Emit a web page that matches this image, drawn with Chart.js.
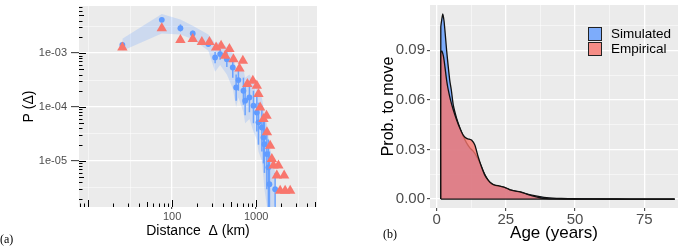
<!DOCTYPE html>
<html lang="en">
<head>
  <meta charset="UTF-8">
  <title>Distance and age of moves</title>
  <script src="https://cdn.jsdelivr.net/npm/chart.js"></script>
  <style>
    body { margin: 0; background: #fff; }
    #wrap { position: relative; width: 685px; height: 250px; }
    #left { position: absolute; left: 0; top: 0; }
    #right { position: absolute; left: 340px; top: 0; }
    .tag { position: absolute; font-family: "Liberation Serif", serif; font-size: 12px; color: #000; }
  </style>
</head>
<body>
<div id="wrap">
  <canvas id="left" width="340" height="250"></canvas>
  <canvas id="right" width="345" height="250"></canvas>
  <div class="tag" style="left:0;top:232px">(a)</div>
  <div class="tag" style="left:383px;top:227px">(b)</div>
</div>

<script>
  // ---- (a) P(distance), log-log ----
  const simDist = [25.6, 75.4, 125.6, 176, 270, 325, 373, 448, 527, 578, 615, 706, 740, 832, 929, 1019, 1066, 1170, 1222, 1256, 1340, 1400, 1439, 1683];
  const simP    = [1.41e-3, 4.14e-3, 2.9e-3, 2.31e-3, 1.47e-3, 8.3e-4, 9.6e-4, 7.7e-4, 5.4e-4, 2.3e-4, 3.16e-4, 2.0e-4, 1.31e-4, 1.5e-4, 1.06e-4, 7.9e-5, 5.2e-5, 4.17e-5, 2.73e-5, 2.05e-5, 1.34e-5, 7.6e-6, 3.7e-6, 3.0e-6];
  const simLo   = [1.3e-3, 3.8e-3, 2.5e-3, 2.1e-3, 1.3e-3, 6.5e-4, 7.5e-4, 5.5e-4, 3.5e-4, 1.3e-4, 2e-4, 1.1e-4, 7e-5, 8e-5, 5e-5, 3.5e-5, 2e-5, 1.5e-5, 9e-6, 6e-6, 3e-6, 1.4e-6, 1.4e-6, 1.4e-6];
  const simHi   = [1.5e-3, 4.5e-3, 3.4e-3, 2.6e-3, 1.7e-3, 1.05e-3, 1.2e-3, 1.05e-3, 8e-4, 4e-4, 5e-4, 3.5e-4, 2.4e-4, 2.8e-4, 2e-4, 1.6e-4, 1.2e-4, 1e-4, 7e-5, 6e-5, 4e-5, 2.5e-5, 1.5e-5, 6e-6];
  const ribLo   = [1.1e-3, 2.3e-3, 2.2e-3, 1.8e-3, 1.1e-3, 4.5e-4, 6e-4, 4e-4, 2.2e-4, 1.0e-4, 1.5e-4, 8e-5, 5e-5, 6e-5, 3.5e-5, 2.5e-5, 1.5e-5, 1e-5, 5e-6, 3e-6, 1.5e-6, 1.2e-6, 1.2e-6, 1.5e-6];
  const ribHi   = [1.85e-3, 5.3e-3, 4.2e-3, 3.2e-3, 2.2e-3, 1.5e-3, 1.6e-3, 1.3e-3, 1.0e-3, 5e-4, 6e-4, 5e-4, 3.5e-4, 4e-4, 3e-4, 2.5e-4, 1.8e-4, 1.5e-4, 1e-4, 8e-5, 5e-5, 3e-5, 2e-5, 6e-6];
  const empDist = [25.6, 75.4, 125.6, 176, 226, 278, 334, 383, 428, 481, 537, 633, 695, 787, 914, 1019, 1066, 1116, 1222, 1330, 1345, 1468, 1538, 1607, 1762, 1841, 1931, 2154, 2213, 2541];
  const empP    = [1.27e-3, 2.9e-3, 1.74e-3, 1.82e-3, 1.6e-3, 1.6e-3, 1.27e-3, 1.37e-3, 8.9e-4, 1.19e-3, 7.7e-4, 5.2e-4, 7.2e-4, 2.67e-4, 3.07e-4, 2.48e-4, 1.74e-4, 9.8e-5, 6.0e-5, 6.9e-5, 3.4e-5, 1.92e-5, 1.09e-5, 8.2e-6, 5.35e-6, 8.2e-6, 2.8e-6, 5.35e-6, 2.8e-6, 2.8e-6];
  const distBreaks = [100, 1000];
  const probBreaks = [1e-5, 1e-4, 1e-3];

  // ---- (b) probability to move by age ----
  const simAge  = [1.5, 1.5, 1.8, 2.2, 2.65, 3.1, 3.6, 4.2, 4.8, 5.3, 6.0, 7.2, 8.4, 9.6, 10.8, 12.0, 13.2, 14.4, 15.6, 16.8, 18.0, 19.2, 21, 22.8, 24.6, 26.5, 28.5, 30.5, 32.5, 34.9, 37.3, 39.7, 42, 45, 50, 55, 60, 70, 86];
  const simProb = [0, 0.104, 0.108, 0.112, 0.108, 0.100, 0.090, 0.080, 0.071, 0.066, 0.057, 0.049, 0.043, 0.038, 0.034, 0.031, 0.029, 0.026, 0.022, 0.017, 0.013, 0.010, 0.0083, 0.0077, 0.0070, 0.0056, 0.0048, 0.0042, 0.0032, 0.0022, 0.0015, 0.0009, 0.0006, 0.0004, 0.0002, 0.0001, 0.00005, 0.00002, 0];
  const empAge  = [1.5, 1.5, 1.9, 2.5, 3.0, 3.6, 4.2, 5.0, 6.0, 7.2, 8.4, 9.6, 10.8, 11.8, 12.6, 13.8, 15.0, 16.2, 17.4, 18.6, 19.8, 21.0, 22.8, 24.6, 26.5, 28.5, 30.1, 32.5, 34.9, 37.3, 39.7, 42, 50, 86];
  const empProb = [0, 0.089, 0.0895, 0.086, 0.080, 0.072, 0.066, 0.060, 0.054, 0.048, 0.0428, 0.0387, 0.0367, 0.0362, 0.0357, 0.0327, 0.0256, 0.0195, 0.0145, 0.0115, 0.0095, 0.0085, 0.0079, 0.0071, 0.0056, 0.0048, 0.0044, 0.0030, 0.0018, 0.0008, 0.0003, 0.0001, 0.00003, 0];
  const ageBreaks = [0, 25, 50, 75];
  const moveBreaks = [0, 0.03, 0.06, 0.09];

  Chart.defaults.font.family = '"Liberation Sans", Arial, sans-serif';
  Chart.defaults.animation = false;

  const BLUE = '#619CFF', RED = '#F8766D';
  const tickGrey = '#4D4D4D';

  // grey panel like ggplot
  const panelBg = {
    id: 'panelBg',
    beforeDraw(chart) {
      const a = chart.chartArea, ctx = chart.ctx;
      ctx.save();
      ctx.fillStyle = '#EBEBEB';
      ctx.fillRect(a.left, a.top, a.right - a.left, a.bottom - a.top);
      ctx.restore();
    }
  };

  // breaks + minor lines half way between (log or linear)
  function logGrid(min, max, majors) {
    const out = [];
    for (let e = Math.floor(Math.log10(min)); e <= Math.ceil(Math.log10(max)); e += 0.5) {
      const v = Math.pow(10, e);
      if (v < min || v > max) continue;
      const major = majors.some(m => Math.abs(Math.log10(m) - e) < 1e-6);
      out.push({ value: v, minor: !major });
    }
    return out;
  }
  function linGrid(min, max, majors) {
    const step = majors[1] - majors[0];
    const out = [];
    for (let k = -2; k <= majors.length * 2 + 2; k++) {
      const v = majors[0] + k * step / 2;
      if (v < min - 1e-9 || v > max + 1e-9) continue;
      out.push({ value: v, minor: k % 2 !== 0 || !majors.some(m => Math.abs(m - v) < 1e-9) });
    }
    return out;
  }

  function gridOpts(tickLen) {
    return {
      color: c => c.tick && c.tick.minor ? 'rgba(255,255,255,0.7)' : '#FFFFFF',
      lineWidth: c => c.tick && c.tick.minor ? 0.7 : 1.3,
      tickColor: c => c.tick && c.tick.minor ? 'rgba(0,0,0,0)' : '#333333',
      tickLength: tickLen,
      tickWidth: 1
    };
  }

  // fixed axis size, no extra label overhang padding
  function fixSize(prop, size) {
    return s => {
      s[prop] = size;
      s.paddingTop = 0; s.paddingBottom = 0; s.paddingLeft = 0; s.paddingRight = 0;
    };
  }

  // error bars under the blue points
  const errorBars = {
    id: 'errorBars',
    beforeDatasetDraw(chart, args) {
      if (args.index !== 2) return;
      const { ctx, chartArea: a } = chart;
      const x = chart.scales.x, y = chart.scales.y;
      ctx.save();
      ctx.beginPath();
      ctx.rect(a.left, a.top, a.right - a.left, a.bottom - a.top);
      ctx.clip();
      ctx.strokeStyle = 'rgba(97,156,255,0.9)';
      ctx.lineWidth = 1.5;
      simDist.forEach((d, i) => {
        const px = x.getPixelForValue(d);
        ctx.beginPath();
        ctx.moveTo(px, y.getPixelForValue(simLo[i]));
        ctx.lineTo(px, y.getPixelForValue(simHi[i]));
        ctx.stroke();
      });
      ctx.restore();
    }
  };

  // annotation_logticks on bottom and left
  const logTickMarks = {
    id: 'logTickMarks',
    afterDatasetsDraw(chart) {
      const { ctx, chartArea: a } = chart;
      const x = chart.scales.x, y = chart.scales.y;
      ctx.save();
      ctx.strokeStyle = '#000';
      ctx.lineWidth = 1;
      for (let e = -7; e <= 4; e++) {
        for (let m = 1; m <= 9; m++) {
          const v = m * Math.pow(10, e);
          const len = m === 1 ? 7 : (m === 5 ? 5 : 3.5);
          if (v >= x.min && v <= x.max) {
            const px = Math.round(x.getPixelForValue(v)) + 0.5;
            ctx.beginPath(); ctx.moveTo(px, a.bottom); ctx.lineTo(px, a.bottom - len); ctx.stroke();
          }
          if (v >= y.min && v <= y.max) {
            const py = Math.round(y.getPixelForValue(v)) + 0.5;
            ctx.beginPath(); ctx.moveTo(a.left, py); ctx.lineTo(a.left + len, py); ctx.stroke();
          }
        }
      }
      ctx.restore();
    }
  };

  function sciLabel(v) {
    const e = Math.round(Math.log10(v));
    return '1e' + (e < 0 ? '-' : '+') + String(Math.abs(e)).padStart(2, '0');
  }

  new Chart(document.getElementById('left'), {
    type: 'line',
    data: {
      datasets: [
        { label: 'band hi', data: simDist.map((d, i) => ({ x: d, y: ribHi[i] })), borderWidth: 0, pointRadius: 0, fill: false, order: 4 },
        { label: 'band lo', data: simDist.map((d, i) => ({ x: d, y: ribLo[i] })), borderWidth: 0, pointRadius: 0,
          fill: '-1', backgroundColor: 'rgba(97,156,255,0.22)', order: 3 },
        { label: 'Simulated', data: simDist.map((d, i) => ({ x: d, y: simP[i] })), showLine: false,
          pointRadius: 2.9, pointBackgroundColor: BLUE, pointBorderWidth: 0, order: 2 },
        { label: 'Empirical', data: empDist.map((d, i) => ({ x: d, y: empP[i] })), showLine: false,
          pointStyle: 'triangle', pointRadius: 6, pointBackgroundColor: RED, pointBorderWidth: 0, order: 1 }
      ]
    },
    options: {
      responsive: false,
      layout: { padding: { top: 5, right: 23, left: 0, bottom: 0 } },
      plugins: { legend: { display: false }, tooltip: { enabled: false } },
      scales: {
        x: {
          type: 'logarithmic', min: 7.8, max: 5300,
          afterBuildTicks: s => { s.ticks = logGrid(7.8, 5300, distBreaks); },
          afterFit: fixSize('height', 43),
          grid: gridOpts(2), border: { display: false },
          ticks: { autoSkip: false, maxRotation: 0, padding: 1.5, color: tickGrey, font: { size: 11 },
                   callback: (v, i, t) => t[i].minor ? '' : String(Math.round(v)) },
          title: { display: true, text: 'Distance  Δ (km)', color: '#000', font: { size: 14 }, padding: { top: 0, bottom: 10.5 } }
        },
        y: {
          type: 'logarithmic', min: 1.4e-6, max: 7.46e-3,
          afterBuildTicks: s => { s.ticks = logGrid(1.4e-6, 7.46e-3, probBreaks); },
          afterFit: fixSize('width', 79),
          grid: gridOpts(8), border: { display: false },
          ticks: { autoSkip: false, padding: 4, color: tickGrey, font: { size: 11 },
                   callback: (v, i, t) => t[i].minor ? '' : sciLabel(v) },
          title: { display: true, text: 'P (Δ)', color: '#000', font: { size: 14 }, padding: { top: 21, bottom: 0 } }
        }
      }
    },
    plugins: [panelBg, errorBars, logTickMarks]
  });

  // outline along the zero line under each density
  const densityBase = {
    id: 'densityBase',
    afterDatasetsDraw(chart) {
      const { ctx } = chart;
      const x = chart.scales.x, y = chart.scales.y;
      const ages = simAge.concat(empAge);
      const y0 = y.getPixelForValue(0);
      ctx.save();
      ctx.strokeStyle = '#111';
      ctx.lineWidth = 1.3;
      ctx.beginPath();
      ctx.moveTo(x.getPixelForValue(Math.min(...ages)), y0);
      ctx.lineTo(x.getPixelForValue(Math.max(...ages)), y0);
      ctx.stroke();
      ctx.restore();
    }
  };

  // legend inside the panel, top right
  const insideLegend = {
    id: 'insideLegend',
    afterDraw(chart) {
      const ctx = chart.ctx, a = chart.chartArea;
      const x0 = a.right - 90, y0 = a.top + 22;
      ctx.save();
      chart.data.datasets.forEach((ds, i) => {
        const y = y0 + i * 15;
        ctx.fillStyle = '#EBEBEB';
        ctx.fillRect(x0, y, 14, 14);
        ctx.fillStyle = ds.backgroundColor;
        ctx.fillRect(x0, y, 14, 14);
        ctx.strokeStyle = '#222';
        ctx.lineWidth = 1;
        ctx.strokeRect(x0 + 0.5, y + 0.5, 13, 13);
        ctx.fillStyle = '#000';
        ctx.font = '13.5px "Liberation Sans", Arial, sans-serif';
        ctx.textBaseline = 'middle';
        ctx.fillText(ds.label, x0 + 23, y + 7.5);
      });
      ctx.restore();
    }
  };

  new Chart(document.getElementById('right'), {
    type: 'line',
    data: {
      datasets: [
        { label: 'Simulated', data: simAge.map((a, i) => ({ x: a, y: simProb[i] })), fill: 'origin',
          backgroundColor: 'rgba(97,156,255,0.8)', borderColor: '#111', borderWidth: 1.3, pointRadius: 0, tension: 0.2, order: 2 },
        { label: 'Empirical', data: empAge.map((a, i) => ({ x: a, y: empProb[i] })), fill: 'origin',
          backgroundColor: 'rgba(248,118,109,0.8)', borderColor: '#111', borderWidth: 1.3, pointRadius: 0, tension: 0.2, order: 1 }
      ]
    },
    options: {
      responsive: false,
      layout: { padding: { top: 5, right: 7, left: 0, bottom: 0 } },
      plugins: { legend: { display: false }, tooltip: { enabled: false } },
      scales: {
        x: {
          type: 'linear', min: -2.4, max: 87.2,
          afterBuildTicks: s => { s.ticks = linGrid(-2.4, 87.2, ageBreaks); },
          afterFit: fixSize('height', 42),
          grid: gridOpts(3), border: { display: false },
          ticks: { autoSkip: false, maxRotation: 0, padding: 0, color: tickGrey, font: { size: 15 },
                   callback: (v, i, t) => t[i].minor ? '' : String(v) },
          title: { display: true, text: 'Age (years)', color: '#000', font: { size: 17 }, padding: { top: 0, bottom: 6.8 } }
        },
        y: {
          type: 'linear', min: -0.0054, max: 0.1174,
          afterBuildTicks: s => { s.ticks = linGrid(-0.0054, 0.1174, moveBreaks); },
          afterFit: fixSize('width', 90),
          grid: gridOpts(3), border: { display: false },
          ticks: { autoSkip: false, padding: 2, color: tickGrey, font: { size: 15 },
                   callback: (v, i, t) => t[i].minor ? '' : v.toFixed(2) },
          title: { display: true, text: 'Prob. to move', color: '#000', font: { size: 16 }, padding: { top: 39, bottom: 0 } }
        }
      }
    },
    plugins: [panelBg, densityBase, insideLegend]
  });
</script>
</body>
</html>
